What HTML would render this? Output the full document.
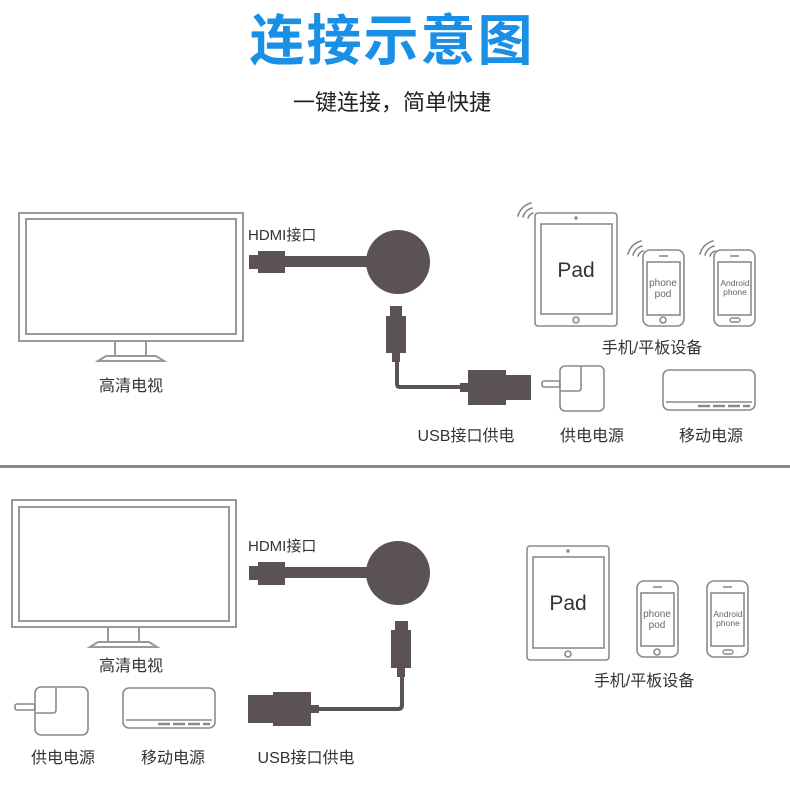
<!DOCTYPE html>
<html><head><meta charset="utf-8"><style>
html,body{margin:0;padding:0;background:#fff}
svg{display:block}
text{font-family:"Liberation Sans","Noto Sans CJK SC",sans-serif}
</style></head><body>
<svg width="790" height="790" viewBox="0 0 790 790" xmlns="http://www.w3.org/2000/svg">
<defs>
<g id="wifi" fill="none" stroke="#888" stroke-width="1.6" stroke-linecap="round">
<path d="M-7,-2 A8,8 0 0 1 -2,-7"/>
<path d="M-12,-3 A13,13 0 0 1 -3,-12"/>
<path d="M-17,-4 A18,18 0 0 1 -4,-17"/>
</g>
<g id="phone" fill="none" stroke="#8a8a8a" stroke-width="1.6">
<rect x="0" y="0" width="41" height="76" rx="7"/>
<rect x="4" y="12" width="33" height="53"/>
<line x1="16" y1="6" x2="25" y2="6"/>
</g>
</defs>

<!-- Title -->
<text x="392" y="60" text-anchor="middle" font-size="55" font-weight="bold" fill="#1a8fe6" style="letter-spacing:2px">连接示意图</text>
<text x="392" y="110" text-anchor="middle" font-size="22" fill="#222">一键连接，简单快捷</text>

<!-- ===== TOP SECTION ===== -->
<g fill="none" stroke="#999" stroke-width="2">
<rect x="19" y="213" width="224" height="128"/>
<rect x="26" y="219" width="210" height="115"/>
<path d="M115,341 V357 M146,341 V357 M98,361 L106,356 H156 L164,361 Z"/>
</g>
<text x="131" y="391" text-anchor="middle" font-size="16" fill="#333">高清电视</text>

<text x="248" y="240" font-size="15" fill="#333">HDMI接口</text>
<g fill="#5a5254">
<rect x="249" y="255" width="10" height="14"/>
<rect x="258" y="251" width="27" height="22"/>
<rect x="284" y="256" width="90" height="11"/>
<circle cx="398" cy="262" r="32"/>
<rect x="390" y="306" width="12" height="11"/>
<rect x="386" y="316" width="20" height="37"/>
<rect x="392" y="352" width="8" height="10"/>
<rect x="460" y="383" width="9" height="9"/>
<rect x="468" y="370" width="38" height="35"/>
<rect x="505" y="375" width="26" height="25"/>
</g>
<path d="M397,360 V384 Q397,387 400,387 H462" fill="none" stroke="#5a5254" stroke-width="4"/>
<text x="466" y="441" text-anchor="middle" font-size="16" fill="#333">USB接口供电</text>

<!-- charger top -->
<g fill="none" stroke="#8a8a8a" stroke-width="1.6">
<rect x="560" y="366" width="44" height="45" rx="5"/>
<path d="M560,391 H578 Q581,391 581,388 V366"/>
<rect x="542" y="381" width="18" height="6" rx="2"/>
</g>
<text x="592" y="441" text-anchor="middle" font-size="16" fill="#333">供电电源</text>
<!-- power bank top -->
<g fill="none" stroke="#8a8a8a" stroke-width="1.6">
<rect x="663" y="370" width="92" height="40" rx="6"/>
<line x1="666" y1="402" x2="752" y2="402"/>
<line x1="698" y1="406" x2="750" y2="406" stroke-width="2.5" stroke-dasharray="12 3"/>
</g>
<text x="711" y="441" text-anchor="middle" font-size="16" fill="#333">移动电源</text>

<!-- devices top -->
<use href="#wifi" x="535" y="220"/>
<g fill="none" stroke="#8a8a8a" stroke-width="1.6">
<rect x="535" y="213" width="82" height="113" rx="3"/>
<rect x="541" y="224" width="71" height="90"/>
<circle cx="576" cy="320" r="3"/>
<circle cx="576" cy="218" r="1"/>
</g>
<text x="576" y="277" text-anchor="middle" font-size="21" fill="#333">Pad</text>
<use href="#wifi" x="645" y="258"/>
<use href="#phone" x="643" y="250"/>
<circle cx="663" cy="320" r="3" fill="none" stroke="#8a8a8a" stroke-width="1.6"/>
<text x="663" y="286" text-anchor="middle" font-size="10" fill="#666">phone</text>
<text x="663" y="297" text-anchor="middle" font-size="10" fill="#666">pod</text>
<use href="#wifi" x="717" y="258"/>
<use href="#phone" x="714" y="250"/>
<rect x="730" y="318" width="10" height="4" rx="2" fill="none" stroke="#8a8a8a" stroke-width="1.4"/>
<text x="735" y="286" text-anchor="middle" font-size="8.5" fill="#666">Android</text>
<text x="735" y="295" text-anchor="middle" font-size="8.5" fill="#666">phone</text>
<text x="652" y="353" text-anchor="middle" font-size="16" fill="#333">手机/平板设备</text>

<!-- divider -->
<rect x="0" y="465" width="790" height="3" fill="#888"/>

<!-- ===== BOTTOM SECTION ===== -->
<g fill="none" stroke="#999" stroke-width="2">
<rect x="12" y="500" width="224" height="127"/>
<rect x="19" y="507" width="210" height="114"/>
<path d="M108,627 V643 M139,627 V643 M90,647 L98,642 H149 L157,647 Z"/>
</g>
<text x="131" y="671" text-anchor="middle" font-size="16" fill="#333">高清电视</text>

<text x="248" y="551" font-size="15" fill="#333">HDMI接口</text>
<g fill="#5a5254">
<rect x="249" y="566" width="10" height="14"/>
<rect x="258" y="562" width="27" height="23"/>
<rect x="284" y="567" width="90" height="11"/>
<circle cx="398" cy="573" r="32"/>
<rect x="395" y="621" width="13" height="10"/>
<rect x="391" y="630" width="20" height="38"/>
<rect x="397" y="667" width="8" height="10"/>
<rect x="248" y="695" width="26" height="28"/>
<rect x="273" y="692" width="38" height="34"/>
<rect x="310" y="705" width="9" height="8"/>
</g>
<path d="M402,675 V705 Q402,709 398,709 H316" fill="none" stroke="#5a5254" stroke-width="4"/>
<text x="306" y="763" text-anchor="middle" font-size="16" fill="#333">USB接口供电</text>

<!-- charger bottom -->
<g fill="none" stroke="#8a8a8a" stroke-width="1.6">
<rect x="35" y="687" width="53" height="48" rx="6"/>
<path d="M35,713 H53 Q56,713 56,710 V687"/>
<rect x="15" y="704" width="20" height="6" rx="2"/>
</g>
<text x="63" y="763" text-anchor="middle" font-size="16" fill="#333">供电电源</text>
<g fill="none" stroke="#8a8a8a" stroke-width="1.6">
<rect x="123" y="688" width="92" height="40" rx="6"/>
<line x1="126" y1="720" x2="212" y2="720"/>
<line x1="158" y1="724" x2="210" y2="724" stroke-width="2.5" stroke-dasharray="12 3"/>
</g>
<text x="173" y="763" text-anchor="middle" font-size="16" fill="#333">移动电源</text>

<!-- devices bottom -->
<g fill="none" stroke="#8a8a8a" stroke-width="1.6">
<rect x="527" y="546" width="82" height="114" rx="3"/>
<rect x="533" y="557" width="71" height="91"/>
<circle cx="568" cy="654" r="3"/>
<circle cx="568" cy="551" r="1"/>
</g>
<text x="568" y="610" text-anchor="middle" font-size="21" fill="#333">Pad</text>
<use href="#phone" x="637" y="581"/>
<circle cx="657" cy="652" r="3" fill="none" stroke="#8a8a8a" stroke-width="1.6"/>
<text x="657" y="617" text-anchor="middle" font-size="10" fill="#666">phone</text>
<text x="657" y="628" text-anchor="middle" font-size="10" fill="#666">pod</text>
<use href="#phone" x="707" y="581"/>
<rect x="723" y="650" width="10" height="4" rx="2" fill="none" stroke="#8a8a8a" stroke-width="1.4"/>
<text x="728" y="617" text-anchor="middle" font-size="8.5" fill="#666">Android</text>
<text x="728" y="626" text-anchor="middle" font-size="8.5" fill="#666">phone</text>
<text x="644" y="686" text-anchor="middle" font-size="16" fill="#333">手机/平板设备</text>
</svg>
</body></html>
